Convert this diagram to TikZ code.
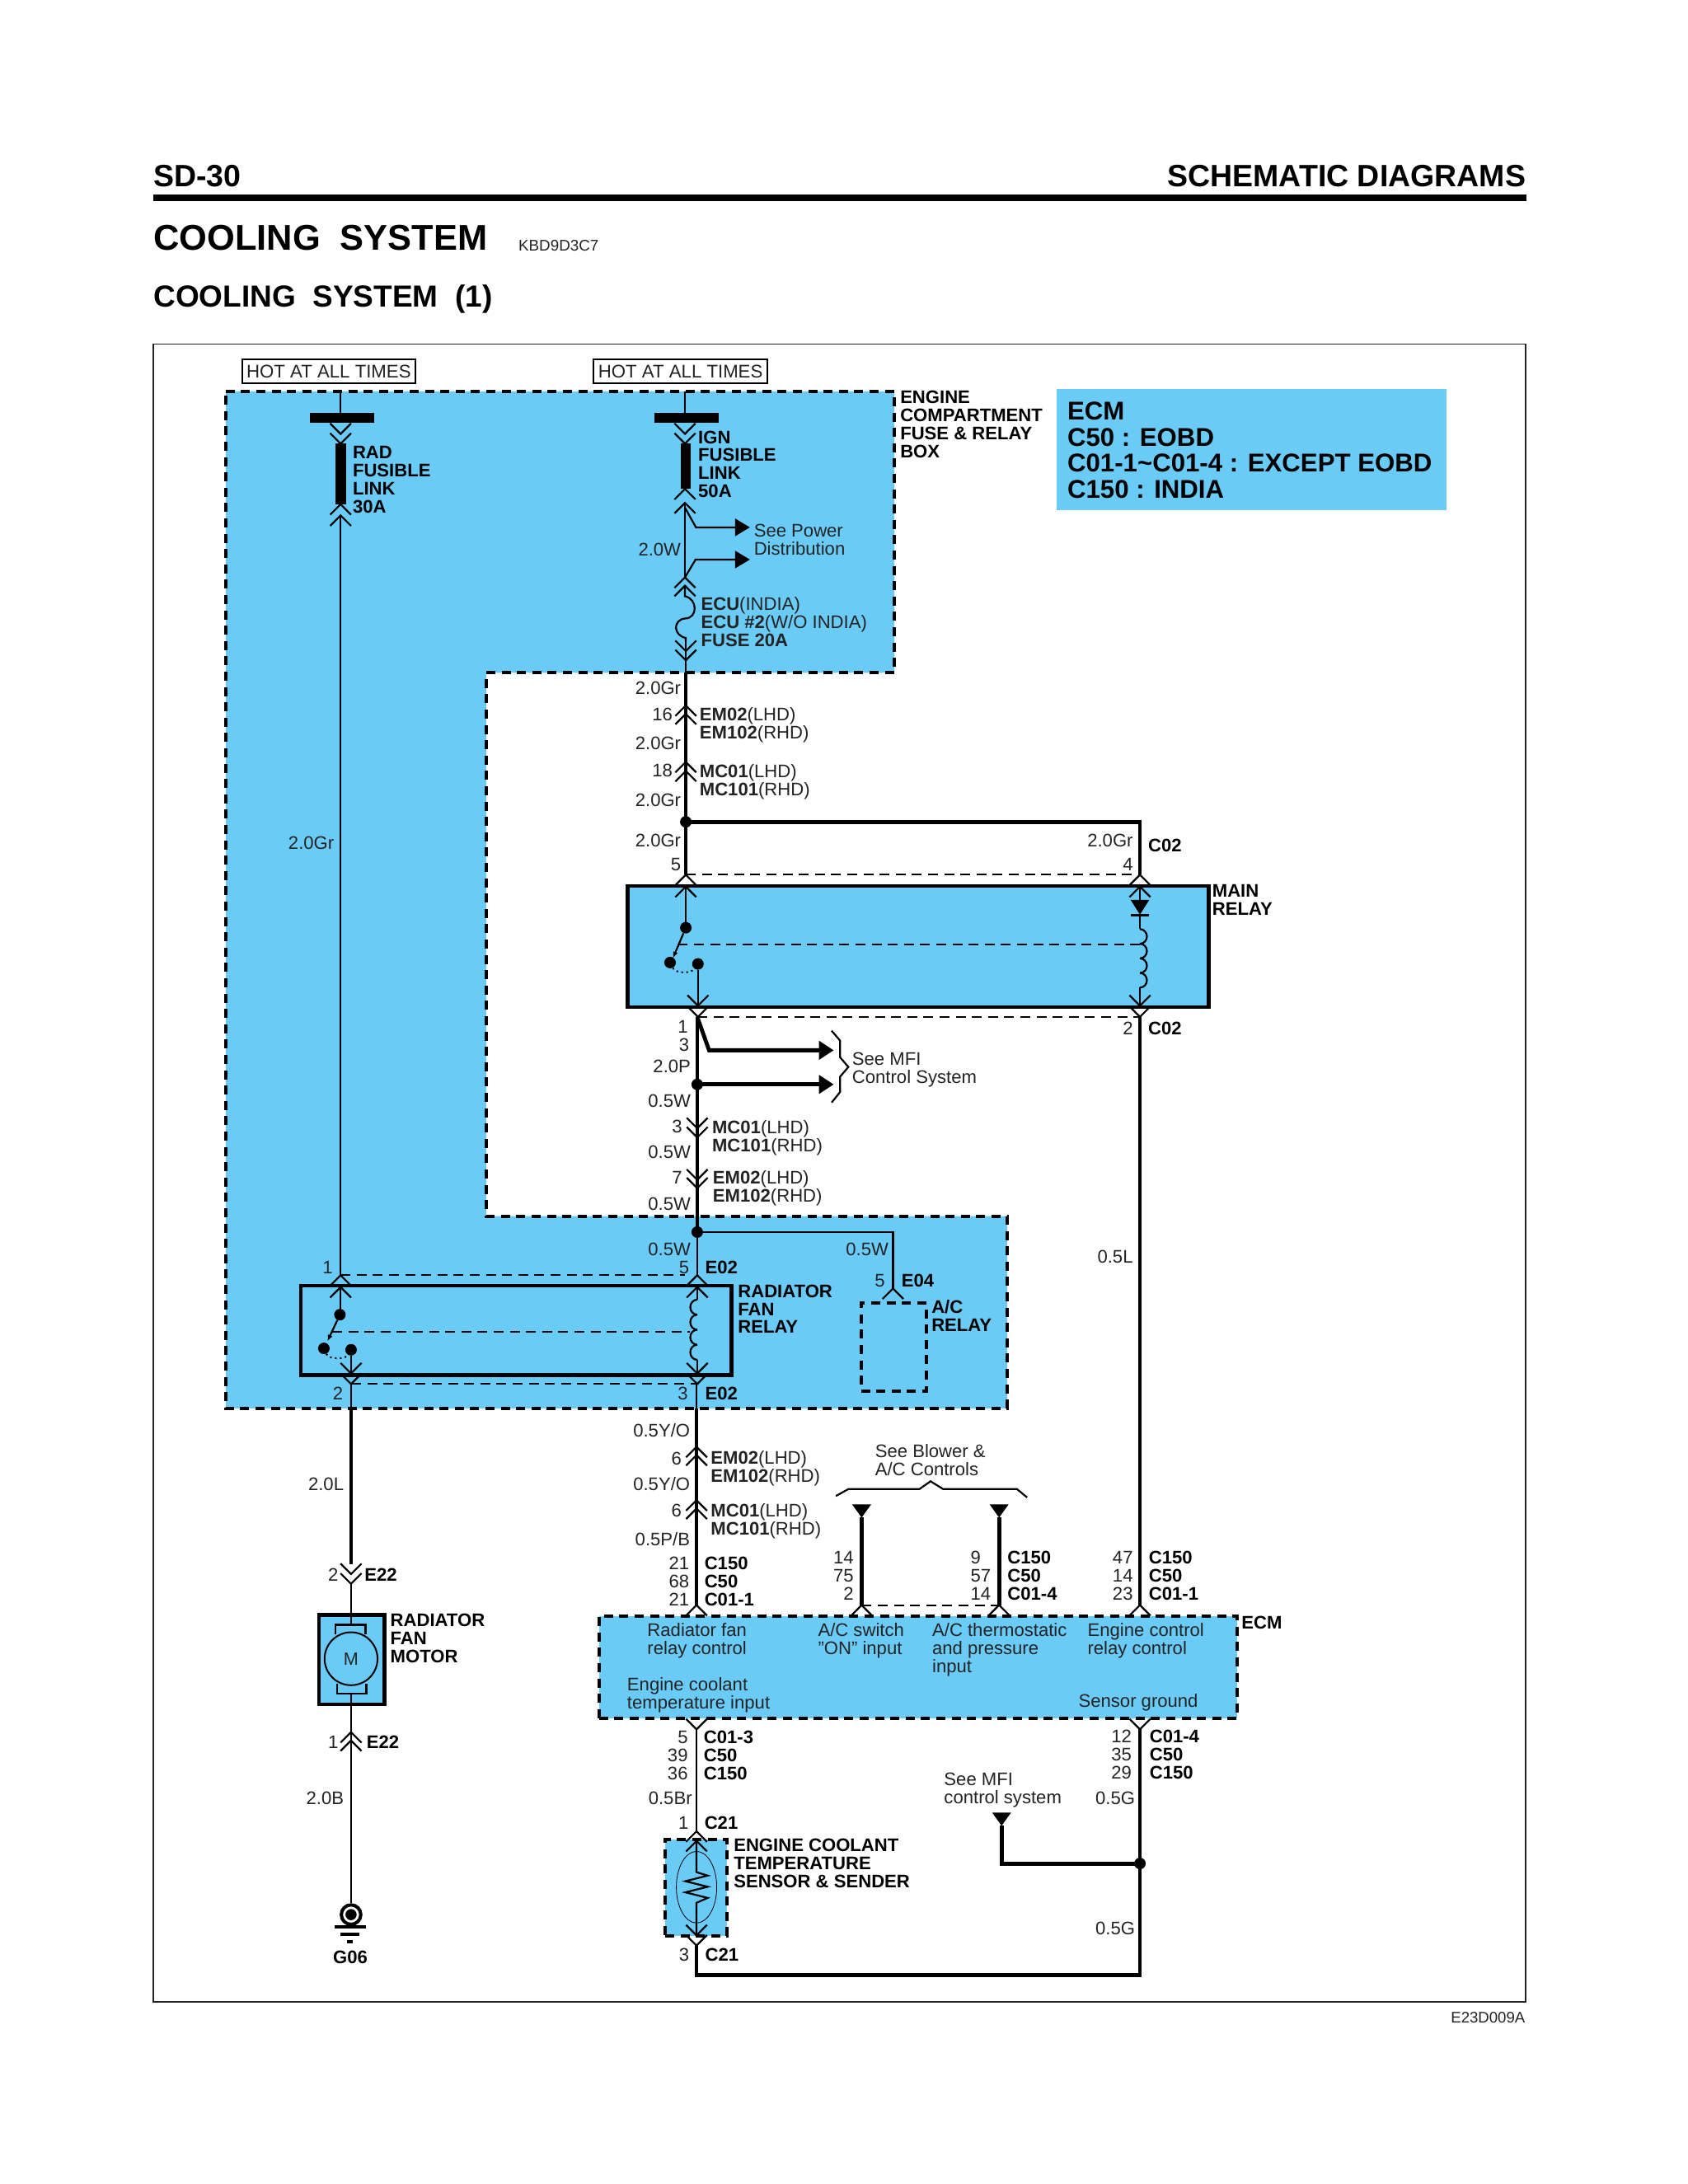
\documentclass[tikz,border=0pt]{standalone}
\usepackage{fontspec}
\setmainfont{Liberation Sans}
\usetikzlibrary{arrows.meta}
\definecolor{modblue}{RGB}{107, 203, 247}
\definecolor{inkgray}{RGB}{35, 35, 35}
\def\uu{0.8451pt}
\tikzstyle{lab} = [font=\fontsize{11.05}{10.95}\selectfont, inner sep=0pt, text=inkgray, align=left, anchor=north west]
\tikzstyle{blab} = [lab, font=\fontsize{11.05}{10.95}\selectfont\bfseries, text=black]
\tikzstyle{wlab} = [font=\fontsize{11.05}{10.95}\selectfont, inner sep=0pt, text=inkgray, text height=7.9pt, text depth=0pt, anchor=east]
\tikzstyle{pinl} = [wlab, anchor=west]
\tikzstyle{conl} = [wlab, font=\fontsize{11.05}{10.95}\selectfont\bfseries, text=black, anchor=west]
\tikzstyle{wire} = [line width=1.1pt, black]
\tikzstyle{hwire} = [line width=2.4pt, black]
\tikzstyle{chev} = [line width=1.1pt, black]
\tikzstyle{link} = [line width=1pt, black, dash pattern=on 6pt off 3.8pt]
\tikzstyle{modzone} = [line width=2pt, black, dash pattern=on 5.5pt off 3.8pt, fill=modblue]
\tikzstyle{relaybox} = [draw, line width=2.4pt, fill=modblue, inner sep=0pt, outer sep=0pt, anchor=north west]
\tikzstyle{dashbox} = [draw, modzone, inner sep=0pt, outer sep=0pt, anchor=north west]
\tikzstyle{hotbox} = [draw, line width=0.9pt, inner sep=0pt, outer sep=0pt, font=\fontsize{11.1}{12}\selectfont, text=inkgray, anchor=north west]
\tikzstyle{feed} = [hwire, -{Triangle[length=9pt, width=11pt]}]
\tikzstyle{dot} = [circle, fill=black, inner sep=0pt, minimum size=7pt]
\newcommand{\connup}[2]{\draw[chev] (#1-7.5,#2+7.5) -- (#1,#2) -- (#1+7.5,#2+7.5);}
\newcommand{\conndn}[2]{\draw[chev] (#1-7.5,#2-7.5) -- (#1,#2) -- (#1+7.5,#2-7.5);}
\newcommand{\feedtip}[2]{\fill (#1-6.8,#2-9.5) -- (#1+6.8,#2-9.5) -- (#1,#2) -- cycle;}
\begin{document}
\begin{tikzpicture}[x=\uu, y=-\uu]
\useasboundingbox (0,0) rectangle (1211.7,1567.9);

% Page header
\node[font=\fontsize{18.75}{20}\selectfont\bfseries, inner sep=0pt, anchor=base west] (page) at (110,134) {SD-30};
\node[font=\fontsize{18.75}{20}\selectfont\bfseries, inner sep=0pt, anchor=base east] (section) at (1095.5,134) {SCHEMATIC DIAGRAMS};
\fill (110,139.5) rectangle (1096,144.5);
\node[font=\fontsize{21.7}{24}\selectfont\bfseries, inner sep=0pt, anchor=base west] (title) at (110,179.5) {COOLING\ \ SYSTEM};
\node[font=\fontsize{9.4}{11}\selectfont, inner sep=0pt, text=inkgray, anchor=base west] (code) at (372,180) {KBD9D3C7};
\node[font=\fontsize{18.5}{20}\selectfont\bfseries, inner sep=0pt, anchor=base west] (subtitle) at (110,220.5) {COOLING\ \ SYSTEM\ \ (1)};
\draw[line width=0.8pt, inkgray] (110,247) rectangle (1095,1437);
\node[font=\fontsize{9.3}{11}\selectfont, inner sep=0pt, text=inkgray, anchor=base east] (figno) at (1095,1452) {E23D009A};

% Legend
\node[fill=modblue, inner sep=0pt, minimum width=280*\uu, minimum height=87*\uu, anchor=north west] (legend) at (758,279) {};
\node[font=\fontsize{15.6}{15.75}\selectfont\bfseries, inner sep=0pt, align=left, anchor=north west] (legendtext) at (766,288.5) {ECM\\C50 : EOBD\\C01-1\textasciitilde C01-4 : EXCEPT EOBD\\C150 : INDIA};

% Shaded modules
\draw[modzone] (162,281) -- (642,281) -- (642,483) -- (349,483) -- (349,873) -- (723,873) -- (723,1011) -- (162,1011) -- cycle;
\node[relaybox, minimum width=417*\uu, minimum height=87*\uu] (mainrelay) at (450.5,636) {};
\node[relaybox, minimum width=309*\uu, minimum height=64*\uu] (fanrelay) at (216,923) {};
\node[dashbox, fill=none, minimum width=47*\uu, minimum height=63*\uu] (acrelay) at (618,935.5) {};
\node[dashbox, minimum width=458*\uu, minimum height=73.5*\uu] (ecm) at (430,1160) {};
\node[relaybox, minimum width=47*\uu, minimum height=64*\uu] (motor) at (229,1159.5) {};
\node[dashbox, minimum width=44.5*\uu, minimum height=69*\uu] (sensor) at (477.5,1320.5) {};

% Supply boxes
\node[hotbox, minimum width=124*\uu, minimum height=17*\uu] (hot1) at (174,258) {HOT AT ALL TIMES};
\node[hotbox, minimum width=125*\uu, minimum height=17*\uu] (hot2) at (426,258) {HOT AT ALL TIMES};

% Named wire points
\coordinate (radtop) at (244.5,281);
\coordinate (radbar) at (244.5,297);
\coordinate (radlow) at (244.5,370);
\coordinate (radrelay) at (244.5,915.5);
\coordinate (igntop) at (491.7,281);
\coordinate (ignbar) at (491.7,297);
\coordinate (ignlow) at (491.7,361);
\coordinate (ignbr1) at (491.7,364.5);
\coordinate (ignbr2) at (491.7,414.5);
\coordinate (fusetop) at (491.7,420.5);
\coordinate (fusein) at (491.7,428);
\coordinate (fusemid) at (491.7,444);
\coordinate (fuseout) at (492.3,460.5);
\coordinate (fuseend) at (492.3,483);
\coordinate (split) at (492.3,590);
\coordinate (relayin) at (492.3,628);
\coordinate (coiltopout) at (818.3,628);
\coordinate (coilturn) at (818.3,590);
\coordinate (contout) at (500.5,730);
\coordinate (coilout) at (818.3,730);
\coordinate (mfibr) at (500.5,778.5);
\coordinate (fanjoin) at (500.5,884.5);
\coordinate (acturn) at (641,884.5);
\coordinate (acpin) at (641,925);
\coordinate (fancoil) at (500.5,915.5);
\coordinate (fanctl) at (500,993.6);
\coordinate (fanmotor) at (252,993.6);
\coordinate (zoneedge) at (500,1011);
\coordinate (motoredge) at (252,1011);
\coordinate (ecmfan) at (500,1152.3);
\coordinate (ecmsw) at (618.5,1152.3);
\coordinate (ecmth) at (717.2,1152.3);
\coordinate (ecmrel) at (818.3,1152.3);
\coordinate (swtip) at (618.5,1089.5);
\coordinate (thtip) at (717.2,1089.5);
\coordinate (ecmcool) at (500,1241.5);
\coordinate (ecmgnd) at (818.3,1241.5);
\coordinate (coolpin) at (500,1314.7);
\coordinate (coolout) at (500,1396.7);
\coordinate (coolcorner) at (500,1418);
\coordinate (gndcorner) at (818.3,1418);
\coordinate (gndjoin) at (818.3,1337.8);
\coordinate (mfitip) at (719,1310.7);
\coordinate (mficorner) at (719,1337.8);
\coordinate (motorin) at (252,1137);
\coordinate (motortop) at (252,1166.5);
\coordinate (motorlow) at (252,1216);
\coordinate (motorpin) at (252,1243.5);
\coordinate (motorgnd) at (252,1366);

% Fusible links
\draw[wire] (radtop) -- (radbar);
\draw[wire] (igntop) -- (ignbar);
\fill (222.5,296.5) rectangle (268.5,303.5);
\fill (470,296.5) rectangle (516,303.5);
\fill (241,318.5) rectangle (248.5,362);
\fill (488.5,318.5) rectangle (495.7,351);
\foreach \xx in {244.5, 491.7} {
  \conndn{\xx}{311.5}
  \conndn{\xx}{318.5}
}
\connup{244.5}{362}
\connup{244.5}{370}
\connup{491.7}{351}
\connup{491.7}{361}
\draw[wire] (radlow) -- (radrelay);

% Branch to power distribution
\draw[wire] (ignlow) -- (ignbr2);
\draw[wire, -{Triangle[length=9pt, width=10.5pt]}] (ignbr1) -- (499.6,378.6) -- (538.3,378.6);
\draw[wire, -{Triangle[length=9pt, width=10.5pt]}] (ignbr2) -- (499.3,401.7) -- (538.3,401.7);
\connup{491.7}{414.5}
\connup{491.7}{420.5}
\draw[wire] (fusetop) -- (fusein) .. controls (501,430) and (501,444) .. (fusemid) .. controls (483,445) and (483,456) .. (492.3,458) -- (fuseout);
\conndn{492.3}{467.4}
\conndn{492.3}{474}
\draw[wire] (fuseout) -- (fuseend);

% Main relay feed
\draw[hwire] (fuseend) -- (relayin);
\connup{492.3}{506.5}
\connup{492.3}{512.5}
\connup{492.3}{547}
\connup{492.3}{553.5}
\draw[hwire] (split) -- (coilturn) -- (coiltopout);
\node[dot] (splitdot) at (split) {};
\draw[link] (relayin) -- (coiltopout);
\connup{492.3}{628}
\connup{818.3}{628}
\connup{492.3}{636.5}
\connup{818.3}{636.5}
\draw[wire] (492.3,636) -- (492.3,666);
\node[dot] (mc1) at (492.3,666) {};
\node[dot] (mc2) at (481,691) {};
\node[dot] (mc3) at (501,692) {};
\draw[wire, -{Latex[length=4pt, width=3pt]}] (mc1) -- (483,688);
\draw[line width=1pt, dotted] (mc2) .. controls (485,699) and (496,699) .. (mc3);
\draw[wire] (mc3) -- (501,722);
\conndn{501}{722}
\conndn{501}{730}
\draw[link] (486.6,678) -- (818,678);
\draw[wire] (818.3,636) -- (818.3,646);
\fill (811.6,646) -- (825,646) -- (818.3,656.6) -- cycle;
\draw[line width=1.2pt] (811.8,657) -- (824.8,657);
\draw[wire] (818.3,657) -- (818.3,667);
\foreach \yy in {667, 677.5, 688, 698.5} {
  \draw[wire] (818.3,\yy) arc[start angle=-90, end angle=90, x radius=5, y radius=5.25];
}
\draw[wire] (818.3,709) -- (818.3,722);
\conndn{818.3}{722}
\conndn{818.3}{730}
\draw[link] (contout) -- (coilout);

% Outputs of main relay
\draw[hwire] (contout) -- (fanjoin);
\draw[feed] (contout) -- (509,754) -- (598.5,754);
\node[dot] (mfidot) at (mfibr) {};
\draw[feed] (mfibr) -- (598.5,778.5);
\draw[wire] (597,740) -- (603,747) -- (603,759) -- (609,766) -- (603,773) -- (603,784) -- (597,791.5);
\conndn{500.5}{810}
\conndn{500.5}{816.6}
\conndn{500.5}{847}
\conndn{500.5}{853}
\draw[hwire] (coilout) -- (ecmrel);

% Radiator fan relay
\node[dot] (fandot) at (fanjoin) {};
\draw[wire] (fanjoin) -- (fancoil);
\draw[wire] (fanjoin) -- (acturn) -- (acpin);
\connup{641}{925}
\draw[link] (radrelay) -- (491.6,915.5);
\connup{244.5}{915.5}
\connup{500.5}{915.5}
\connup{244.5}{924}
\connup{500.5}{924}
\draw[wire] (244.5,924) -- (244.5,943.8);
\node[dot] (fc1) at (244,943.8) {};
\node[dot] (fc2) at (232.5,968) {};
\node[dot] (fc3) at (252,969) {};
\draw[wire, -{Latex[length=4pt, width=3pt]}] (fc1) -- (235,963);
\draw[line width=1pt, dotted] (fc2) .. controls (236,976) and (248,976) .. (fc3);
\draw[wire] (fc3) -- (252,986);
\conndn{252}{986}
\conndn{252}{993.6}
\draw[link] (238.4,956.2) -- (495.4,956.2);
\draw[wire] (500.5,924) -- (500.5,933);
\foreach \yy in {933, 943.8, 954.6, 965.4} {
  \draw[wire] (500.5,\yy) arc[start angle=-90, end angle=-270, x radius=5, y radius=5.4];
}
\draw[wire] (500.5,976.2) -- (500.5,986);
\conndn{500.5}{986}
\conndn{500.5}{993.6}
\draw[link] (fanmotor) -- (fanctl);
\draw[wire] (fanctl) -- (zoneedge);
\draw[wire] (fanmotor) -- (motoredge);

% Fan motor and ground
\draw[hwire] (motoredge) -- (252,1123);
\conndn{252}{1130}
\conndn{252}{1137}
\draw[wire] (motorin) -- (motortop);
\draw[wire] (241,1173) -- (241,1166.5) -- (262.4,1166.5) -- (262.4,1173);
\draw[wire] (242,1209) -- (242,1216) -- (263,1216) -- (263,1209);
\node[draw, line width=1pt, circle, minimum size=38*\uu, inner sep=0pt, font=\fontsize{10.8}{11}\selectfont, text=inkgray] (mcircle) at (252,1190.8) {M};
\draw[wire] (motorlow) -- (motorpin);
\connup{252}{1243.5}
\connup{252}{1249.5}
\draw[wire] (motorpin) -- (motorgnd);
\node[draw, line width=2pt, circle, minimum size=14*\uu, inner sep=0pt] (gndring) at (252,1374.5) {};
\fill (gndring.center) circle[radius=4];
\draw[line width=2pt] (240.4,1383) -- (262.4,1383);
\draw[line width=2pt] (244.5,1388.5) -- (258.2,1388.5);
\draw[line width=2pt] (249,1394) -- (253,1394);

% Connections to ECM
\draw[hwire] (zoneedge) -- (ecmfan);
\connup{500}{1038.7}
\connup{500}{1044.6}
\connup{500}{1077}
\connup{500}{1083}
\feedtip{618.5}{1089.5}
\feedtip{717.2}{1089.5}
\draw[hwire] (swtip) -- (ecmsw);
\draw[hwire] (thtip) -- (ecmth);
\draw[link] (ecmsw) -- (ecmth);
\draw[wire] (600,1074) -- (609,1069) -- (660,1069) -- (668,1063.4) -- (677,1069) -- (730,1069) -- (737.3,1075);
\foreach \xx in {500, 618.5, 717.2, 818.3} {
  \connup{\xx}{1152.3}
}
\conndn{500}{1241.5}
\conndn{818.3}{1241.5}

% Coolant sensor
\draw[wire] (ecmcool) -- (coolpin);
\connup{500}{1314.7}
\connup{500}{1321.6}
\draw (500,1354.8) circle[x radius=14.5, y radius=25.7];
\draw[wire] (500,1321.6) -- (500,1344) -- (508,1346.5) -- (492,1350.5) -- (508,1354.5) -- (492,1358.5) -- (508,1362.5) -- (500,1366) -- (500,1389.4);
\conndn{500}{1389.4}
\conndn{500}{1396.7}
\draw[hwire] (coolout) -- (coolcorner) -- (gndcorner) -- (ecmgnd);
\feedtip{719}{1310.7}
\draw[hwire] (mfitip) -- (mficorner) -- (gndjoin);
\node[dot] (gnddot) at (gndjoin) {};

% Component and connector labels
\node[blab] (t1) at (646,280.5) {ENGINE\\COMPARTMENT\\FUSE \& RELAY\\BOX};
\node[blab] (t2) at (253,320) {RAD\\FUSIBLE\\LINK\\30A};
\node[blab] (t3) at (501,309) {IGN\\FUSIBLE\\LINK\\50A};
\node[lab] (t4) at (541,376) {See Power\\Distribution};
\node[wlab] (t5) at (489,394.5) {2.0W};
\node[lab] (t6) at (503,428.5) {\textbf{ECU}(INDIA)\\\textbf{ECU \#2}(W/O INDIA)\\\textbf{FUSE 20A}};
\node[wlab] (w1) at (240,605) {2.0Gr};
\node[wlab] (w2) at (489,493.5) {2.0Gr};
\node[wlab] (w3) at (483,512.5) {16};
\node[lab] (t7) at (502,507.5) {\textbf{EM02}(LHD)\\\textbf{EM102}(RHD)};
\node[wlab] (w4) at (489,533.5) {2.0Gr};
\node[wlab] (w5) at (483,553) {18};
\node[lab] (t8) at (502,548.5) {\textbf{MC01}(LHD)\\\textbf{MC101}(RHD)};
\node[wlab] (w6) at (489,574) {2.0Gr};
\node[wlab] (w7) at (489,603) {2.0Gr};
\node[wlab] (w8) at (489,620.5) {5};
\node[wlab] (w9) at (813.5,603) {2.0Gr};
\node[wlab] (w10) at (813.5,620.5) {4};
\node[conl] (c1) at (824,607) {C02};
\node[blab] (t9) at (870,635) {MAIN\\RELAY};
\node[wlab] (w11) at (494,737) {1};
\node[wlab] (w12) at (495,750) {3};
\node[wlab] (w13) at (496,765.5) {2.0P};
\node[wlab] (w14) at (813.5,738) {2};
\node[conl] (c2) at (824,738) {C02};
\node[lab] (t10) at (611.5,755.5) {See MFI\\Control System};
\node[wlab] (w15) at (496,790.5) {0.5W};
\node[wlab] (w16) at (490,808.5) {3};
\node[lab] (t11) at (511,804) {\textbf{MC01}(LHD)\\\textbf{MC101}(RHD)};
\node[wlab] (w17) at (496,827) {0.5W};
\node[wlab] (w18) at (490,845) {7};
\node[lab] (t12) at (511.5,840) {\textbf{EM02}(LHD)\\\textbf{EM102}(RHD)};
\node[wlab] (w19) at (496,864) {0.5W};
\node[wlab] (w20) at (496,896.5) {0.5W};
\node[wlab] (w21) at (638,896.5) {0.5W};
\node[wlab] (w22) at (813.5,902) {0.5L};
\node[wlab] (w23) at (239,910) {1};
\node[wlab] (w24) at (495,910) {5};
\node[conl] (c3) at (506,910) {E02};
\node[wlab] (w25) at (635.5,919) {5};
\node[conl] (c4) at (647,919) {E04};
\node[blab] (t13) at (529.5,922) {RADIATOR\\FAN\\RELAY};
\node[blab] (t14) at (668.5,933) {A/C\\RELAY};
\node[wlab] (w26) at (246.5,1000.5) {2};
\node[wlab] (w27) at (494,1000.5) {3};
\node[conl] (c5) at (506,1000.5) {E02};
\node[wlab] (w28) at (495.5,1027) {0.5Y/O};
\node[wlab] (w29) at (489.5,1047) {6};
\node[lab] (t15) at (510,1041.5) {\textbf{EM02}(LHD)\\\textbf{EM102}(RHD)};
\node[wlab] (w30) at (495.5,1065.5) {0.5Y/O};
\node[wlab] (w31) at (489.5,1084.5) {6};
\node[lab] (t16) at (510,1079.5) {\textbf{MC01}(LHD)\\\textbf{MC101}(RHD)};
\node[wlab] (w32) at (495.5,1105) {0.5P/B};
\node[wlab] (w33) at (247,1065.5) {2.0L};
\node[lab] (t17) at (628,1036.5) {See Blower \&\\A/C Controls};
\node[wlab] (w34) at (243,1130.5) {2};
\node[conl] (c6) at (261.5,1130.5) {E22};

% Pin stacks beside ECM
\node[wlab] (p1) at (495,1122) {21};
\node[wlab] (p2) at (495,1135) {68};
\node[wlab] (p3) at (495,1148) {21};
\node[conl] (c7) at (505.5,1122) {C150};
\node[conl] (c8) at (505.5,1135) {C50};
\node[conl] (c9) at (505.5,1148) {C01-1};
\node[wlab] (p4) at (613,1118) {14};
\node[wlab] (p5) at (613,1131) {75};
\node[wlab] (p6) at (613,1144) {2};
\node[pinl] (p7) at (696.5,1118) {9};
\node[pinl] (p8) at (696.5,1131) {57};
\node[pinl] (p9) at (696.5,1144) {14};
\node[conl] (c10) at (723,1118) {C150};
\node[conl] (c11) at (723,1131) {C50};
\node[conl] (c12) at (723,1144) {C01-4};
\node[wlab] (p10) at (813.5,1118) {47};
\node[wlab] (p11) at (813.5,1131) {14};
\node[wlab] (p12) at (813.5,1144) {23};
\node[conl] (c13) at (824.5,1118) {C150};
\node[conl] (c14) at (824.5,1131) {C50};
\node[conl] (c15) at (824.5,1144) {C01-1};

% ECM inside
\node[lab] (e1) at (464.5,1165) {Radiator fan\\relay control};
\node[lab] (e2) at (587,1165) {A/C switch\\"ON" input};
\node[lab] (e3) at (669,1165) {A/C thermostatic\\and pressure\\input};
\node[lab] (e4) at (780.5,1165) {Engine control\\relay control};
\node[lab] (e5) at (450,1204) {Engine coolant\\temperature input};
\node[lab] (e6) at (774,1216) {Sensor ground};
\node[blab] (e7) at (891,1160) {ECM};

% Lower labels
\node[blab] (t18) at (280,1158.5) {RADIATOR\\FAN\\MOTOR};
\node[wlab] (w35) at (243,1250.5) {1};
\node[conl] (c16) at (263,1250.5) {E22};
\node[wlab] (w36) at (247,1290.5) {2.0B};
\node[blab, anchor=center] (t19) at (251.5,1405) {G06};
\node[wlab] (p13) at (494,1247) {5};
\node[wlab] (p14) at (494,1260) {39};
\node[wlab] (p15) at (494,1273) {36};
\node[conl] (c17) at (505,1247) {C01-3};
\node[conl] (c18) at (505,1260) {C50};
\node[conl] (c19) at (505,1273) {C150};
\node[wlab] (w37) at (497,1290.5) {0.5Br};
\node[wlab] (w38) at (494.5,1308.5) {1};
\node[conl] (c20) at (505.5,1308.5) {C21};
\node[blab] (t20) at (526.5,1320) {ENGINE COOLANT\\TEMPERATURE\\SENSOR \& SENDER};
\node[wlab] (w39) at (495,1403) {3};
\node[conl] (c21) at (506,1403) {C21};
\node[wlab] (p16) at (812.5,1246.5) {12};
\node[wlab] (p17) at (812.5,1259.5) {35};
\node[wlab] (p18) at (812.5,1272.5) {29};
\node[conl] (c22) at (825,1246.5) {C01-4};
\node[conl] (c23) at (825,1259.5) {C50};
\node[conl] (c24) at (825,1272.5) {C150};
\node[lab] (t21) at (677.5,1272.5) {See MFI\\control system};
\node[wlab] (w40) at (815,1290.5) {0.5G};
\node[wlab] (w41) at (815,1384.5) {0.5G};

\end{tikzpicture}
\end{document}
